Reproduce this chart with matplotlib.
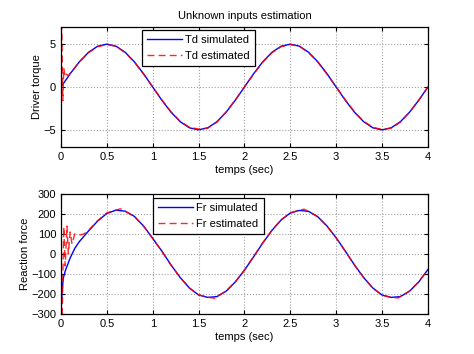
import matplotlib
matplotlib.use("Agg")
import matplotlib.pyplot as plt

plt.rcParams['font.family'] = ['Liberation Sans', 'DejaVu Sans']
plt.rcParams['font.size'] = 8

# time grid of the simulated signals (sec)
t_sim = [0.0, 0.1, 0.2, 0.3, 0.4, 0.5, 0.6, 0.7, 0.8, 0.9,
         1.0, 1.1, 1.2, 1.3, 1.4, 1.5, 1.6, 1.7, 1.8, 1.9,
         2.0, 2.1, 2.2, 2.3, 2.4, 2.5, 2.6, 2.7, 2.8, 2.9,
         3.0, 3.1, 3.2, 3.3, 3.4, 3.5, 3.6, 3.7, 3.8, 3.9, 4.0]

# Driver torque
td_sim = [0.0, 1.55, 2.94, 4.05, 4.76, 5.0, 4.76, 4.05, 2.94, 1.55,
          0.0, -1.55, -2.94, -4.05, -4.76, -5.0, -4.76, -4.05, -2.94, -1.55,
          0.0, 1.55, 2.94, 4.05, 4.76, 5.0, 4.76, 4.05, 2.94, 1.55,
          0.0, -1.55, -2.94, -4.05, -4.76, -5.0, -4.76, -4.05, -2.94, -1.55, 0.0]

t_td_est = [0.0, 0.004, 0.012, 0.02, 0.03, 0.045, 0.06, 0.08,
            0.1, 0.2, 0.3, 0.4, 0.5, 0.6, 0.7, 0.8, 0.9,
            1.0, 1.1, 1.2, 1.3, 1.4, 1.5, 1.6, 1.7, 1.8, 1.9,
            2.0, 2.1, 2.2, 2.3, 2.4, 2.5, 2.6, 2.7, 2.8, 2.9,
            3.0, 3.1, 3.2, 3.3, 3.4, 3.5, 3.6, 3.7, 3.8, 3.9, 4.0]
td_est = [-9.0, 9.0, 4.3, -1.6, 2.2, 1.2, 1.5, 1.3,
          1.6, 2.9, 4.0, 4.7, 4.95, 4.75, 4.0, 2.9, 1.5,
          0.0, -1.5, -2.9, -4.0, -4.7, -4.9, -4.8, -4.1, -2.9, -1.5,
          0.0, 1.5, 2.9, 4.0, 4.7, 4.95, 4.75, 4.0, 2.9, 1.5,
          0.0, -1.5, -2.9, -4.0, -4.7, -4.95, -4.8, -4.1, -2.95, -1.55, 0.0]

# Reaction force
t_fr_sim = [0.0, 0.01, 0.025, 0.05, 0.1, 0.15, 0.2,
            0.3, 0.4, 0.5, 0.6, 0.7, 0.8, 0.9,
            1.0, 1.1, 1.2, 1.3, 1.4, 1.5, 1.6, 1.7, 1.8, 1.9,
            2.0, 2.1, 2.2, 2.3, 2.4, 2.5, 2.6, 2.7, 2.8, 2.9,
            3.0, 3.1, 3.2, 3.3, 3.4, 3.5, 3.6, 3.7, 3.8, 3.9, 4.0]
fr_sim = [-300, -200, -120, -80, -20, 28, 62,
          115, 165, 203, 219, 214, 188, 140,
          78, 14, -55, -118, -170, -205, -217, -213, -186, -140,
          -81, -14, 55, 118, 170, 205, 218, 213, 186, 140,
          81, 14, -55, -118, -170, -205, -217, -213, -186, -140, -78]

t_fr_est = [0.0, 0.012, 0.03, 0.045, 0.065, 0.08, 0.1, 0.12, 0.15, 0.2, 0.25,
            0.3, 0.4, 0.5, 0.6, 0.65, 0.7, 0.8, 0.9,
            1.0, 1.1, 1.2, 1.3, 1.4, 1.5, 1.6, 1.68, 1.7, 1.8, 1.9,
            2.0, 2.1, 2.2, 2.3, 2.4, 2.5, 2.6, 2.65, 2.7, 2.8, 2.9,
            3.0, 3.1, 3.2, 3.3, 3.4, 3.5, 3.6, 3.68, 3.7, 3.8, 3.9, 4.0]
fr_est = [-300, -330, 135, -60, 140, 0, 110, 50, 100, 95, 100,
          118, 167, 205, 220, 226, 214, 187, 139,
          77, 13, -56, -118, -170, -204, -216, -222, -213, -185, -139,
          -80, -13, 56, 119, 171, 206, 219, 224, 213, 186, 139,
          80, 13, -56, -118, -171, -206, -217, -220, -212, -185, -139, -78]

xt = [0, 0.5, 1, 1.5, 2, 2.5, 3, 3.5, 4]
xt_labels = ['0', '0.5', '1', '1.5', '2', '2.5', '3', '3.5', '4']


def style(ax):
    ax.set_xlim(0, 4)
    ax.set_xticks(xt)
    ax.set_xticklabels(xt_labels)
    ax.grid(True, linestyle=':', color='#a0a0a0', linewidth=0.8)
    ax.tick_params(direction='in', top=True, right=True, length=3, labelsize=8)
    for s in ax.spines.values():
        s.set_linewidth(0.9)
    ax.set_xlabel('temps (sec)', fontsize=8, labelpad=2)


def legend(ax, x, y):
    leg = ax.legend(loc='upper left', bbox_to_anchor=(x, y), fontsize=8,
                    handlelength=3.1, handletextpad=0.35, fancybox=False,
                    framealpha=1, edgecolor='black', borderpad=0.45,
                    labelspacing=0.5, borderaxespad=0)
    leg.get_frame().set_linewidth(0.9)


fig = plt.figure(figsize=(4.74, 3.54), dpi=100)
ax1 = fig.add_axes([0.1287, 0.5847, 0.774, 0.339])
ax2 = fig.add_axes([0.1287, 0.113, 0.774, 0.339])

ax1.plot(t_sim, td_sim, color='blue', linewidth=1.0, label='Td simulated')
ax1.plot(t_td_est, td_est, color='red', linestyle=(0, (5, 3)), linewidth=1.0,
         label='Td estimated', alpha=0.85)
ax1.set_ylim(-7, 7)
ax1.set_yticks([-5, 0, 5])
style(ax1)
ax1.set_ylabel('Driver torque', fontsize=8, labelpad=1)
ax1.set_title('Unknown inputs estimation', fontsize=8, pad=6)
legend(ax1, 0.221, 0.975)

ax2.plot(t_fr_sim, fr_sim, color='blue', linewidth=1.0, label='Fr simulated')
ax2.plot(t_fr_est, fr_est, color='red', linestyle=(0, (5, 3)), linewidth=1.0,
         label='Fr estimated', alpha=0.85)
ax2.set_ylim(-300, 300)
ax2.set_yticks([-300, -200, -100, 0, 100, 200, 300])
style(ax2)
ax2.set_ylabel('Reaction force', fontsize=8, labelpad=1)
legend(ax2, 0.251, 0.967)

fig.savefig('out.png', dpi=100)
